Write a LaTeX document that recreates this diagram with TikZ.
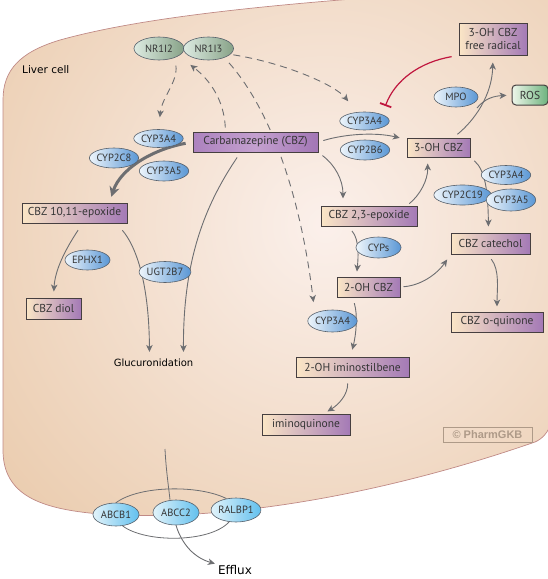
\documentclass[tikz,border=0pt]{standalone}
\usepackage{fontspec}
\setmainfont{PT Sans}
\newfontfamily\comicf{DejaVu Sans}
\newfontfamily\wmfont{Liberation Sans}
\usetikzlibrary{shapes.geometric,arrows.meta,calc}
\pgfdeclarelayer{cellbg}
\pgfdeclarelayer{edges}
\pgfsetlayers{cellbg,edges,main}
\definecolor{arrgrey}{HTML}{6D6E71}
\definecolor{boxborder}{HTML}{463F40}
\definecolor{peach}{HTML}{FBE6C6}
\definecolor{plum}{HTML}{A47AB6}
\definecolor{cbzL}{HTML}{AC82BE}
\definecolor{cbzM}{HTML}{C4A0CF}
\definecolor{cbzR}{HTML}{A276B5}
\definecolor{enzborder}{HTML}{56606B}
\definecolor{enzL}{HTML}{EEF5FB}
\definecolor{enzR}{HTML}{5A97D5}
\definecolor{nrL}{HTML}{DDEBE2}
\definecolor{nrR}{HTML}{87A287}
\definecolor{abcL}{HTML}{E2F3FA}
\definecolor{abcR}{HTML}{62C0EE}
\definecolor{rosL}{HTML}{EEF6EA}
\definecolor{rosR}{HTML}{6DB37E}
\definecolor{cellin}{HTML}{FBF0EB}
\definecolor{cellout}{HTML}{E5C09A}
\definecolor{cellborder}{HTML}{C08A86}
\definecolor{inhred}{HTML}{C0163E}
\definecolor{wmgrey}{HTML}{AE9A88}
\definecolor{txt}{HTML}{353535}
\def\celloutline{(3,100) -- (3,450) .. controls (3,495) and (40,509) .. (100,514) .. controls (250,524) and (420,482) .. (535,442) .. controls (542,439) and (549,432) .. (551,422) -- (551,-14) .. controls (300,0) and (150,15) .. (60,40) .. controls (20,52) and (3,70) .. (3,100) -- cycle}
\begin{document}
\begin{tikzpicture}[x=1pt,y=-1pt,
  box/.style={draw=boxborder, line width=1pt, left color=peach, right color=plum, minimum height=20pt, inner sep=0pt, text=txt, font=\fontsize{11.5}{13}\selectfont},
  enz/.style={ellipse, draw=enzborder, line width=0.6pt, left color=enzL, right color=enzR, minimum width=45pt, minimum height=20pt, inner sep=0pt, text=txt, font=\fontsize{10.5}{12}\selectfont},
  nr/.style={enz, left color=nrL, right color=nrR, minimum width=50pt, minimum height=23pt},
  abc/.style={enz, left color=abcL, right color=abcR, minimum width=46pt, minimum height=24pt},
  comic/.style={inner sep=1pt, font=\comicf\fontsize{10}{12}\selectfont, text=black},
  arr/.style={draw=arrgrey, line width=0.9pt, -{Stealth[length=7pt,width=6.5pt,inset=2pt]}},
  darr/.style={arr, dash pattern=on 7pt off 5pt},
  thickarr/.style={draw=arrgrey, line width=3pt, -{Stealth[length=10pt,width=10pt,inset=3pt]}},
  plainline/.style={draw=arrgrey, line width=0.8pt},
  inh/.style={draw=inhred, line width=1.2pt, -{Bar[width=12pt,line width=1.8pt]}}
]
\useasboundingbox (0,0) rectangle (548,579);
% cell
\begin{pgfonlayer}{cellbg}
\begin{scope}
\clip \celloutline;
\shade[inner color=cellin, outer color=cellout] (325,225) circle (560);
\end{scope}
\draw[cellborder, line width=0.7pt] \celloutline;
\end{pgfonlayer}

% nodes
\node[nr] (nrA) at (159,48.5) {NR1I2};
\node[nr] (nrB) at (208.5,48.5) {NR1I3};
\node[comic, anchor=west, font=\comicf\fontsize{10.5}{12}\selectfont] (liver) at (21,70) {Liver cell};
\node[enz, minimum height=18pt] (c3a4L) at (158.5,138.5) {CYP3A4};
\node[enz, minimum width=42pt] (c2c8) at (114,158) {CYP2C8};
\node[enz, minimum width=43pt] (c3a5L) at (164,171) {CYP3A5};
\node[box, minimum width=125pt, left color=cbzL, right color=cbzR, middle color=cbzM] (cbz) at (255.5,142) {Carbamazepine (CBZ)};
\node[box, minimum width=105pt] (epox) at (74.5,213) {CBZ 10,11-epoxide};
\node[enz] (ephx) at (87.5,260) {EPHX1};
\node[enz, minimum width=44pt, minimum height=21pt] (ugt) at (165,272) {UGT2B7};
\node[box, minimum width=55pt, minimum height=21pt] (diol) at (53.5,308.5) {CBZ diol};
\node[comic] (gluc) at (153.5,363) {Glucuronidation};
\node[enz, minimum height=18pt] (c3a4M) at (364.5,121) {CYP3A4};
\node[enz, minimum width=44pt] (c2b6) at (365,150) {CYP2B6};
\node[box, minimum width=63pt, minimum height=19pt] (ohcbz) at (438.5,147.5) {3-OH CBZ};
\node[box, minimum width=68pt, minimum height=32pt, align=center, font=\fontsize{11.5}{13}\selectfont] (rad) at (493,39) {3-OH CBZ\\free radical};
\node[enz, minimum width=44pt] (mpo) at (456,97) {MPO};
\node[box, minimum width=36pt, rounded corners=4pt, left color=rosL, right color=rosR] (ros) at (530,95) {ROS};
\node[enz, minimum width=44pt, minimum height=19pt] (c3a4R) at (506,175) {CYP3A4};
\node[enz, minimum width=47pt] (c2c19) at (462.5,195) {CYP2C19};
\node[enz, minimum width=44pt, minimum height=22pt] (c3a5R) at (511,200) {CYP3A5};
\node[box, minimum width=96pt] (ep23) at (369,216) {CBZ 2,3-epoxide};
\node[enz, minimum height=21pt] (cyps) at (378.5,247.5) {CYPs};
\node[box, minimum width=79pt, minimum height=21pt] (catech) at (490.5,243.5) {CBZ catechol};
\node[box, minimum width=63pt] (oh2) at (368.5,287) {2-OH CBZ};
\node[box, minimum width=92pt] (quin) at (497,322) {CBZ o-quinone};
\node[enz, minimum width=43pt, minimum height=22pt] (c3a4B) at (332.5,321) {CYP3A4};
\node[box, minimum width=113pt] (imino) at (352.5,367) {2-OH iminostilbene};
\node[box, minimum width=88pt, minimum height=21pt] (iq) at (306,424.5) {iminoquinone};
\node[draw=wmgrey, line width=1pt, minimum width=89pt, minimum height=15pt, inner sep=0pt, text=wmgrey, font=\wmfont\bfseries\fontsize{11}{12}\selectfont] (pgkb) at (487.5,434.5) {\textcopyright\ PharmGKB};
\node[abc, minimum height=23pt] (abcb1) at (116,514.5) {ABCB1};
\node[abc, minimum height=25pt] (abcc2) at (176,512.5) {ABCC2};
\node[abc] (ralbp) at (236,510) {RALBP1};
\node[comic, font=\comicf\fontsize{12}{14}\selectfont] (efflux) at (235,570) {Efflux};

\coordinate (nrjoin) at (184,60);
\coordinate (branch) at (477,108);
\coordinate (effin) at (165,449);

\begin{pgfonlayer}{edges}
% dashed regulation
\draw[darr, shorten <=8pt, shorten >=12pt] (nrA.-30) .. controls (178,82) and (162,97) .. (c3a4L.north);
\draw[darr, shorten <=4pt, shorten >=8pt] ([xshift=-30pt]cbz.north) .. controls (224,100) and (210,80) .. (nrjoin);
\draw[darr, shorten <=3pt, shorten >=14pt] (nrB.-15) .. controls (285,63) and (335,85) .. (c3a4M.130);
\draw[darr, shorten <=7pt, shorten >=11pt] (nrB.-30) .. controls (262,100) and (298,175) .. (c3a4B.north west);
% metabolism
\draw[thickarr, shorten <=7pt, shorten >=6pt] (cbz.west) .. controls (150,150) and (120,170) .. ([xshift=35pt]epox.north);
\draw[arr, shorten <=6pt, shorten >=6pt] ([xshift=-15pt]cbz.south) .. controls (205,205) and (183,260) .. ([xshift=30pt]gluc.north);
\draw[arr, shorten <=9pt, shorten >=6pt] ([xshift=42pt]epox.south) .. controls (135,245) and (149,280) .. ([xshift=-4pt]gluc.north);
\draw[arr, shorten <=8pt, shorten >=6pt] ([xshift=8pt]epox.south) .. controls (65,250) and (55,270) .. (diol.north);
\draw[arr, shorten <=5pt, shorten >=7pt] (cbz.east) .. controls (345,134) and (375,132) .. ([yshift=8pt]ohcbz.west);
\draw[arr, shorten <=5pt, shorten >=7pt] (cbz.south east) .. controls (335,165) and (343,180) .. ([xshift=-26pt]ep23.north);
\draw[arr, shorten <=3pt, shorten >=6pt] ([xshift=38pt]ep23.north) .. controls (420,195) and (428,180) .. ([xshift=-11pt]ohcbz.south);
\draw[arr, shorten <=5pt, shorten >=7pt] ([xshift=15pt]ohcbz.north) .. controls (475,120) and (492,95) .. (rad.south);
\draw[arr, shorten >=5pt] (branch) .. controls (485,98) and (495,96) .. (ros.west);
\draw[inh, shorten <=7pt, shorten >=9pt] (rad.south west) .. controls (420,62) and (395,80) .. (c3a4M.north east);
\draw[arr, shorten <=5pt, shorten >=6pt] (ohcbz.south east) .. controls (485,170) and (488,190) .. ([xshift=-2pt]catech.north);
\draw[arr, shorten <=6pt, shorten >=5pt] ([xshift=-21pt]ep23.south) .. controls (360,240) and (358,260) .. ([xshift=-12pt]oh2.north);
\draw[arr, shorten <=3pt, shorten >=6pt] (oh2.east) .. controls (425,285) and (440,270) .. (catech.south west);
\draw[arr, shorten <=6pt, shorten >=5pt] ([xshift=-3pt]catech.south) .. controls (500,270) and (497,290) .. (quin.north);
\draw[arr, shorten <=6pt, shorten >=7pt] ([xshift=-16pt]oh2.south) .. controls (358,315) and (356,335) .. ([xshift=-2pt]imino.north);
\draw[arr, shorten <=6pt, shorten >=4pt] ([xshift=-5pt]imino.south) .. controls (348,395) and (338,405) .. ([xshift=18pt]iq.north);
% transport
\draw[plainline] (effin) .. controls (166,470) and (169,490) .. ([xshift=-6pt]abcc2.north);
\draw[plainline] (abcb1.north) .. controls (140,485) and (200,485) .. (ralbp.130);
\draw[plainline] (abcb1.-60) .. controls (145,543) and (210,543) .. (ralbp.-120);
\draw[arr, shorten >=2pt] (abcc2.south) .. controls (182,545) and (195,558) .. (efflux.north west);
\end{pgfonlayer}
\end{tikzpicture}
\end{document}
